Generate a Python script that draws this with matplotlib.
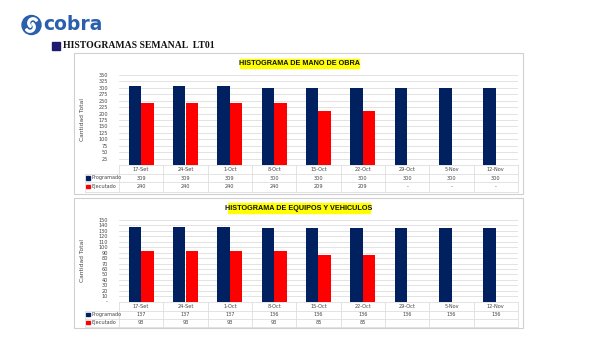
import matplotlib
matplotlib.use("Agg")
import matplotlib.pyplot as plt
from matplotlib.patches import Rectangle, Wedge, Circle

# ---------------- data ----------------
fechas = ["17-Set", "24-Set", "1-Oct", "8-Oct", "15-Oct", "22-Oct", "29-Oct", "5-Nov", "12-Nov"]
mo_programado = [309, 309, 309, 300, 300, 300, 300, 300, 300]
mo_ejecutado = [240, 240, 240, 240, 209, 209, None, None, None]
eq_programado = [137, 137, 137, 136, 136, 136, 136, 136, 136]
eq_ejecutado = [93, 93, 93, 93, 85, 85, None, None, None]
series_names = ["Programado", "Ejecutado"]
title_top = "HISTOGRAMA DE MANO DE OBRA"
title_bottom = "HISTOGRAMA DE EQUIPOS Y VEHICULOS"
header = "HISTOGRAMAS SEMANAL  LT01"
ylabel = "Cantidad Total"

NAVY = "#002060"
RED = "#FF0000"
GRID = "#dedede"
LOGO = "#2a5fae"
W, H = 600, 338

fig = plt.figure(figsize=(6, 3.38), dpi=100)
fig.patch.set_facecolor("white")

# overlay in pixel coordinates
ov = fig.add_axes([0, 0, 1, 1])
ov.set_xlim(0, W)
ov.set_ylim(H, 0)
ov.axis("off")
ov.set_zorder(5)
ov.patch.set_alpha(0)


def box(x0, y0, x1, y1):
    return [x0 / W, 1 - y1 / H, (x1 - x0) / W, (y1 - y0) / H]


# ---------------- logo / header ----------------
cx, cy = 31.5, 25
ov.add_patch(Circle((cx, cy), 9.5, color=LOGO))
ov.add_patch(Wedge((cx + 1.5, cy - 2.0), 5.2, 120, 330, width=1.8, color="white"))
ov.add_patch(Wedge((cx - 1.5, cy + 2.0), 5.2, 300, 150, width=1.8, color="white"))
ov.text(43.5, 24.5, "cobra", fontsize=13.5, fontweight="bold", color=LOGO,
        va="center", ha="left", family="DejaVu Sans")
ov.add_patch(Rectangle((52, 41.7), 8, 8.3, color="#1f1a6e"))
ov.text(63, 46, header, fontsize=7, fontweight="bold", family="Liberation Serif",
        va="center", ha="left", color="#111111")


def panel(y0, y1, title, tbox, prog, ejec, ymax, ystep, ytop, ybot,
          rows_y, table_bottom, zero_label, missing):
    # panel frame
    ov.add_patch(Rectangle((74, y0), 449, y1 - y0, fill=False, ec="#d0d0d0", lw=0.8))
    # title box
    tx0, ty0, tx1, ty1 = tbox
    ov.add_patch(Rectangle((tx0, ty0), tx1 - tx0, ty1 - ty0, color="#ffff00"))
    ov.text((tx0 + tx1) / 2, (ty0 + ty1) / 2 + 0.3, title, fontsize=5.2, fontweight="bold",
            family="Liberation Sans", ha="center", va="center", color="#111111")

    px0, px1 = 119, 518
    ax = fig.add_axes(box(px0, ytop, px1, ybot))
    n = len(fechas)
    x = list(range(n))
    bw = 0.28
    ax.bar([i - bw / 2 for i in x], prog, width=bw, color=NAVY, zorder=3)
    ex = [i + bw / 2 for i, v in zip(x, ejec) if v is not None]
    ev = [v for v in ejec if v is not None]
    ax.bar(ex, ev, width=bw, color=RED, zorder=3)
    ax.set_xlim(-0.5, n - 0.5)
    ax.set_ylim(0, ymax)
    ticks = list(range(0, ymax + 1, ystep))
    ax.set_yticks(ticks)
    labels = [str(t) for t in ticks]
    labels[0] = zero_label
    ax.set_yticklabels(labels, fontsize=3.6, color="#444444")
    ax.tick_params(axis="y", length=0, pad=8)
    ax.set_xticks([])
    ax.grid(axis="y", color=GRID, lw=0.6, zorder=0)
    for s in ax.spines.values():
        s.set_visible(False)
    ax.set_ylabel(ylabel, fontsize=4.3, color="#444444", labelpad=9)
    ax.yaxis.set_label_coords(-0.085, 0.5)

    # data table
    colw = (px1 - px0) / n
    hy, py, ey = rows_y
    ttop = ybot
    for i in range(n + 1):
        xx = px0 + i * colw
        ov.plot([xx, xx], [ttop, table_bottom], color=GRID, lw=0.6)
    ov.plot([85, 85], [(hy + py) / 2, table_bottom], color=GRID, lw=0.6)
    seps = [(hy + py) / 2, (py + ey) / 2, table_bottom]
    for sy in seps:
        ov.plot([85, px1], [sy, sy], color=GRID, lw=0.6)
    ov.plot([px0, px1], [ttop, ttop], color=GRID, lw=0.6)
    for i, f in enumerate(fechas):
        xc = px0 + (i + 0.5) * colw
        ov.text(xc, hy, f, fontsize=3.6, ha="center", va="center", color="#444444")
        ov.text(xc, py, str(prog[i]), fontsize=3.6, ha="center", va="center", color="#444444")
        ev_ = ejec[i]
        ov.text(xc, ey, str(ev_) if ev_ is not None else missing, fontsize=3.6,
                ha="center", va="center", color="#444444")
    for (yy, name, col) in [(py, series_names[0], NAVY), (ey, series_names[1], RED)]:
        ov.add_patch(Rectangle((86.3, yy - 1.7), 3.2, 3.2, color=col))
        ov.text(91, yy, name, fontsize=3.6, ha="left", va="center", color="#444444")


panel(53, 194, title_top, (240, 59, 359, 67.5), mo_programado, mo_ejecutado,
      350, 25, 75, 165, (169.5, 178, 186.3), 191.5, "", "-")
panel(198, 328, title_bottom, (228, 203, 370, 212.7), eq_programado, eq_ejecutado,
      150, 10, 220, 301.7, (306.7, 314.3, 322.7), 326.7, "-", "")

fig.savefig("out.png", dpi=100)
